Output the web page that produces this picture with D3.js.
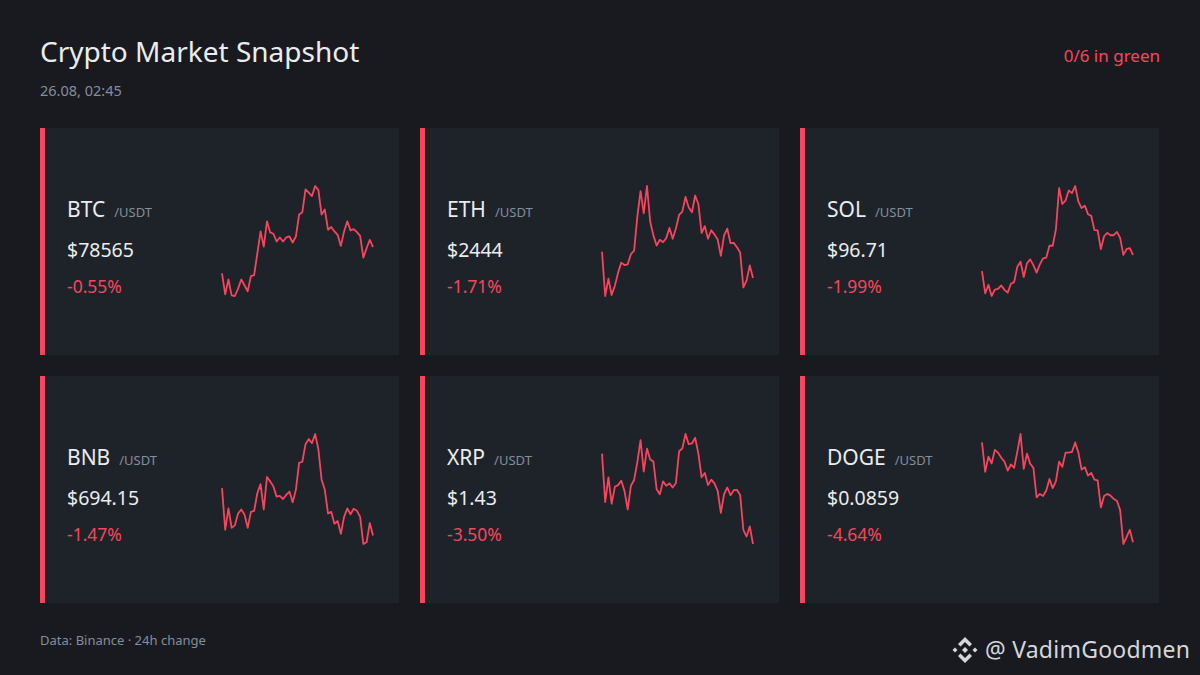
<!DOCTYPE html>
<html>
<head>
<meta charset="utf-8">
<title>Crypto Market Snapshot</title>
<script src="https://cdn.jsdelivr.net/npm/d3@7"></script>
<style>
  html, body { margin: 0; padding: 0; background: #181a20; }
  svg { display: block; font-family: "Noto Sans", "Open Sans", sans-serif; }
</style>
</head>
<body>
<svg id="chart" width="1200" height="675"></svg>
<script>
// data
var symbols = ['BTC', 'ETH', 'SOL', 'BNB', 'XRP', 'DOGE']
var prices = ['$78565', '$2444', '$96.71', '$694.15', '$1.43', '$0.0859']
var changes = [-0.55, -1.71, -1.99, -1.47, -3.50, -4.64]

// 24h sparkline, relative level (48 samples each)
var btc = [70,8,52,5,3,25,52,35,17,62,65,130,195,150,225,192,188,165,177,165,177,180,162,180,245,252,320,310,300,330,318,245,260,200,208,195,185,152,195,225,198,202,193,182,117,145,170,148]
var eth = [137,7,58,10,37,75,105,98,100,130,140,240,315,250,330,225,185,155,172,165,177,207,175,205,245,255,298,267,253,302,277,192,212,175,200,188,173,125,185,205,162,163,150,135,32,52,97,60]
var sol = [77,12,37,4,23,25,35,22,14,40,45,90,105,60,100,112,95,73,97,115,117,152,152,200,322,275,285,315,307,328,282,263,270,245,240,198,197,142,180,190,183,183,193,175,125,142,145,125]
var bnb = [175,52,115,58,65,100,112,97,58,105,108,160,187,112,208,195,180,150,152,143,155,165,133,170,250,253,305,320,308,335,290,200,170,100,105,70,78,40,90,115,98,114,108,90,10,15,72,35]
var xrp = [275,132,205,127,177,182,195,165,110,180,197,250,315,222,290,258,252,170,155,193,180,187,175,188,282,290,333,303,305,322,275,205,218,182,198,187,165,100,155,175,152,167,168,153,50,30,60,8]
var doge = [310,223,268,248,288,280,265,253,227,245,235,283,335,232,277,247,235,148,158,152,168,202,175,195,253,238,280,280,282,310,280,230,237,212,220,200,198,118,152,158,153,143,138,110,10,30,52,15]
var series = [btc, eth, sol, bnb, xrp, doge]

var red = '#f6465d', green = '#0ecb81'
var svg = d3.select('#chart')

var cardW = 359, cardH = 227
var colX = d3.scalePoint().domain([0, 1, 2]).range([40, 800])
var rowY = d3.scalePoint().domain([0, 1]).range([128, 376])

svg.append('text').attr('x', 40).attr('y', 62)
  .attr('fill', '#eaecef').attr('font-size', 28).text('Crypto Market Snapshot')
svg.append('text').attr('x', 40).attr('y', 96)
  .attr('fill', '#848e9c').attr('font-size', 14.5).text('26.08, 02:45')

var up = changes.filter(function (c) { return c > 0 }).length
svg.append('text').attr('x', 1160).attr('y', 62).attr('text-anchor', 'end')
  .attr('fill', up > changes.length / 2 ? green : red).attr('font-size', 17)
  .text(up + '/' + changes.length + ' in green')

var cards = svg.selectAll('g.card').data(symbols).enter().append('g')
  .attr('class', 'card')
  .attr('transform', function (d, i) { return 'translate(' + colX(i % 3) + ',' + rowY(Math.floor(i / 3)) + ')' })

cards.append('rect').attr('width', cardW).attr('height', cardH).attr('fill', '#1e2329')
cards.append('rect').attr('width', 5).attr('height', cardH)
  .attr('fill', function (d, i) { return changes[i] >= 0 ? green : red })

var sym = cards.append('text').attr('x', 27).attr('y', 89)
sym.append('tspan').attr('fill', '#eaecef').attr('font-size', 21).text(function (d) { return d })
sym.append('tspan').attr('dx', 9).attr('fill', '#848e9c').attr('font-size', 13).text('/USDT')

cards.append('text').attr('x', 27).attr('y', 129)
  .attr('fill', '#eaecef').attr('font-size', 19.5).text(function (d, i) { return prices[i] })
cards.append('text').attr('x', 27).attr('y', 165)
  .attr('fill', function (d, i) { return changes[i] >= 0 ? green : red }).attr('font-size', 17.5)
  .text(function (d, i) { return (changes[i] > 0 ? '+' : '') + changes[i].toFixed(2) + '%' })

cards.each(function (d, i) {
  var vals = series[i]
  var x = d3.scaleLinear().domain([0, vals.length - 1]).range([182, 333])
  var y = d3.scaleLinear().domain(d3.extent(vals)).range([168, 58])
  var line = d3.line().x(function (v, j) { return x(j) }).y(function (v) { return y(v) })
  d3.select(this).append('path').datum(vals).attr('d', line)
    .attr('fill', 'none').attr('stroke', changes[i] >= 0 ? green : red)
    .attr('stroke-width', 1.8).attr('stroke-linejoin', 'round')
})

svg.append('text').attr('x', 40).attr('y', 645)
  .attr('fill', '#848e9c').attr('font-size', 13).text('Data: Binance \u00b7 24h change')

// binance mark + handle
var logo = svg.append('g').attr('transform', 'translate(965,650)').attr('fill', '#d5d7db')
logo.append('path').attr('d', 'M0,-13 L7,-6 L4.5,-3.5 L0,-8 L-4.5,-3.5 L-7,-6 Z')
logo.append('path').attr('d', 'M0,13 L7,6 L4.5,3.5 L0,8 L-4.5,3.5 L-7,6 Z')
logo.append('path').attr('d', 'M0,-3 L3,0 L0,3 L-3,0 Z')
logo.append('path').attr('d', 'M-10,-2.5 L-7.5,0 L-10,2.5 L-12.5,0 Z')
logo.append('path').attr('d', 'M10,-2.5 L12.5,0 L10,2.5 L7.5,0 Z')
svg.append('text').attr('x', 1190).attr('y', 658).attr('text-anchor', 'end')
  .attr('fill', '#d5d7db').attr('font-size', 23).attr('textLength', 205)
  .text('@ VadimGoodmen')
</script>
</body>
</html>
